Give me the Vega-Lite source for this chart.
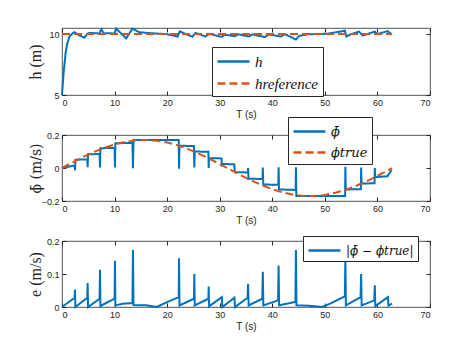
{
  "$schema": "https://vega.github.io/schema/vega-lite/v6.json",
  "background": "white",
  "padding": {"left": 26, "top": 24, "right": 5, "bottom": 5},
  "spacing": 40,
  "bounds": "flush",
  "resolve": {"scale": {"color": "independent", "strokeDash": "independent"}, "legend": {"color": "independent", "strokeDash": "independent"}},
  "config": {
    "view": {"stroke": "#262626", "strokeWidth": 0.8},
    "axis": {
      "grid": false, "domain": false,
      "labelFont": "Liberation Sans", "labelFontSize": 9, "labelColor": "#262626",
      "tickColor": "#262626", "tickSize": -4, "labelPadding": 7, "format": "~r",
      "titleFont": "Liberation Sans", "titleFontSize": 10, "titleFontWeight": "normal", "titleColor": "#262626"
    },
    "axisY": {"titleFont": "Liberation Serif", "titleFontSize": 16, "titlePadding": 3, "minExtent": 16, "maxExtent": 16},
    "axisX": {"titlePadding": 2},
    "legend": {
      "orient": "none", "strokeColor": "#262626", "fillColor": "white", "padding": 4,
      "labelFont": "DejaVu Serif", "labelFontSize": 13, "labelFontStyle": "italic", "labelColor": "#111",
      "symbolType": "M-1,0H2.55", "symbolSize": 324, "symbolStrokeWidth": 2.5, "rowPadding": 3, "labelOffset": 18
    }
  },
  "vconcat": [
    {
      "width": 368, "height": 67,
      "data": {"values": [
        {"t":0,"v":5,"s":"h"},{"t":0.3,"v":6.8,"s":"h"},{"t":0.7,"v":8.5,"s":"h"},{"t":1.0,"v":9.2,"s":"h"},{"t":1.4,"v":9.8,"s":"h"},{"t":2.0,"v":10.05,"s":"h"},{"t":2.35,"v":10.15,"s":"h"},{"t":3.3,"v":9.9,"s":"h"},{"t":4.25,"v":9.7,"s":"h"},{"t":4.9,"v":10.05,"s":"h"},{"t":5.2,"v":10.1,"s":"h"},{"t":7.1,"v":10.05,"s":"h"},{"t":7.5,"v":10.4,"s":"h"},{"t":7.9,"v":10.08,"s":"h"},{"t":10.0,"v":10.05,"s":"h"},{"t":10.3,"v":10.45,"s":"h"},{"t":12.2,"v":9.65,"s":"h"},{"t":13.4,"v":10.45,"s":"h"},{"t":14.7,"v":10.15,"s":"h"},{"t":16.6,"v":10.08,"s":"h"},{"t":19.8,"v":10.0,"s":"h"},{"t":22.0,"v":9.8,"s":"h"},{"t":22.4,"v":10.22,"s":"h"},{"t":24.8,"v":9.78,"s":"h"},{"t":25.4,"v":10.1,"s":"h"},{"t":27.3,"v":9.8,"s":"h"},{"t":27.9,"v":10.02,"s":"h"},{"t":30.3,"v":9.78,"s":"h"},{"t":31.0,"v":9.95,"s":"h"},{"t":32.9,"v":9.82,"s":"h"},{"t":33.5,"v":9.98,"s":"h"},{"t":35.6,"v":9.8,"s":"h"},{"t":36.2,"v":9.98,"s":"h"},{"t":38.6,"v":9.75,"s":"h"},{"t":39.3,"v":9.98,"s":"h"},{"t":41.6,"v":9.8,"s":"h"},{"t":42.4,"v":10.0,"s":"h"},{"t":44.5,"v":9.55,"s":"h"},{"t":45.1,"v":9.85,"s":"h"},{"t":46.7,"v":9.98,"s":"h"},{"t":50.5,"v":10.03,"s":"h"},{"t":53.1,"v":10.22,"s":"h"},{"t":53.8,"v":10.28,"s":"h"},{"t":54.1,"v":9.8,"s":"h"},{"t":54.9,"v":9.98,"s":"h"},{"t":56.5,"v":10.2,"s":"h"},{"t":57.2,"v":9.88,"s":"h"},{"t":59.1,"v":10.15,"s":"h"},{"t":59.5,"v":10.2,"s":"h"},{"t":60.0,"v":10.0,"s":"h"},{"t":61.6,"v":10.2,"s":"h"},{"t":61.9,"v":10.25,"s":"h"},{"t":62.7,"v":10.0,"s":"h"},
        {"t":0,"v":10,"s":"r"},{"t":62.8,"v":10,"s":"r"}
      ]},
      "layer": [
        {
          "mark": {"type": "line", "strokeWidth": 2},
          "encoding": {
            "x": {"field": "t", "type": "quantitative", "scale": {"domain": [0, 70], "nice": false}, "axis": {"values": [0,10,20,30,40,50,60,70], "title": "T (s)"}},
            "y": {"field": "v", "type": "quantitative", "scale": {"domain": [5, 10.5], "nice": false, "zero": false}, "axis": {"values": [5, 10], "title": "h (m)"}},
            "color": {"field": "s", "type": "nominal", "scale": {"domain": ["h", "r"], "range": ["#0072BD", "#D95319"]}, "legend": {"title": null, "legendX": 150, "legendY": 19, "labelFont": "Liberation Serif", "labelFontSize": 15, "labelExpr": "datum.value == 'h' ? 'h' : 'hreference'"}},
            "strokeDash": {"field": "s", "type": "nominal", "scale": {"domain": ["h", "r"], "range": [[1, 0], [8, 4]]}, "legend": {"title": null, "legendX": 150, "legendY": 19, "labelFont": "Liberation Serif", "labelFontSize": 15, "labelExpr": "datum.value == 'h' ? 'h' : 'hreference'"}}
          }
        },
        {
          "mark": {"type": "line", "opacity": 0},
          "encoding": {
            "x": {"field": "t", "type": "quantitative", "axis": {"orient": "top", "values": [0,10,20,30,40,50,60,70], "labels": false, "title": null}},
            "y": {"field": "v", "type": "quantitative", "axis": {"orient": "right", "values": [5, 10], "labels": false, "title": null, "minExtent": 0}},
            "detail": {"field": "s"}
          }
        }
      ],
      "resolve": {"axis": {"x": "independent", "y": "independent"}}
    },
    {
      "width": 368, "height": 66,
      "data": {"values": [
        {"t":0,"v":0,"s":"bar"},{"t":2.4,"v":0.015,"s":"bar"},{"t":2.47,"v":-0.014,"s":"bar"},{"t":2.55,"v":0.05,"s":"bar"},{"t":4.8,"v":0.052,"s":"bar"},{"t":4.88,"v":0.005,"s":"bar"},{"t":4.95,"v":0.083,"s":"bar"},{"t":7.15,"v":0.085,"s":"bar"},{"t":7.23,"v":0.003,"s":"bar"},{"t":7.3,"v":0.12,"s":"bar"},{"t":10.0,"v":0.122,"s":"bar"},{"t":10.08,"v":0.003,"s":"bar"},{"t":10.15,"v":0.15,"s":"bar"},{"t":13.4,"v":0.152,"s":"bar"},{"t":13.5,"v":-0.002,"s":"bar"},{"t":13.6,"v":0.17,"s":"bar"},{"t":22.2,"v":0.17,"s":"bar"},{"t":22.26,"v":-0.005,"s":"bar"},{"t":22.35,"v":0.135,"s":"bar"},{"t":25.1,"v":0.133,"s":"bar"},{"t":25.17,"v":0.003,"s":"bar"},{"t":25.25,"v":0.10,"s":"bar"},{"t":27.85,"v":0.098,"s":"bar"},{"t":27.9,"v":0.0,"s":"bar"},{"t":27.98,"v":0.06,"s":"bar"},{"t":30.35,"v":0.058,"s":"bar"},{"t":30.4,"v":0.01,"s":"bar"},{"t":30.48,"v":0.025,"s":"bar"},{"t":32.75,"v":0.022,"s":"bar"},{"t":32.8,"v":0.005,"s":"bar"},{"t":32.88,"v":-0.025,"s":"bar"},{"t":35.35,"v":-0.027,"s":"bar"},{"t":35.4,"v":0.0,"s":"bar"},{"t":35.48,"v":-0.065,"s":"bar"},{"t":38.15,"v":-0.067,"s":"bar"},{"t":38.2,"v":0.003,"s":"bar"},{"t":38.28,"v":-0.10,"s":"bar"},{"t":41.15,"v":-0.102,"s":"bar"},{"t":41.2,"v":0.005,"s":"bar"},{"t":41.28,"v":-0.13,"s":"bar"},{"t":44.45,"v":-0.133,"s":"bar"},{"t":44.5,"v":0.005,"s":"bar"},{"t":44.58,"v":-0.17,"s":"bar"},{"t":53.85,"v":-0.17,"s":"bar"},{"t":53.9,"v":0.008,"s":"bar"},{"t":53.98,"v":-0.13,"s":"bar"},{"t":56.85,"v":-0.128,"s":"bar"},{"t":56.9,"v":0.003,"s":"bar"},{"t":56.98,"v":-0.095,"s":"bar"},{"t":59.45,"v":-0.092,"s":"bar"},{"t":59.5,"v":0.0,"s":"bar"},{"t":59.58,"v":-0.055,"s":"bar"},{"t":61.95,"v":-0.05,"s":"bar"},{"t":62.0,"v":-0.045,"s":"bar"},{"t":62.7,"v":-0.012,"s":"bar"},
        {"t":0,"v":0,"s":"true"},{"t":2,"v":0.0338,"s":"true"},{"t":4,"v":0.0662,"s":"true"},{"t":6,"v":0.096,"s":"true"},{"t":8,"v":0.122,"s":"true"},{"t":10,"v":0.1431,"s":"true"},{"t":12,"v":0.1584,"s":"true"},{"t":14,"v":0.1675,"s":"true"},{"t":16,"v":0.1699,"s":"true"},{"t":18,"v":0.1656,"s":"true"},{"t":20,"v":0.1546,"s":"true"},{"t":22,"v":0.1374,"s":"true"},{"t":24,"v":0.1148,"s":"true"},{"t":26,"v":0.0876,"s":"true"},{"t":28,"v":0.057,"s":"true"},{"t":30,"v":0.024,"s":"true"},{"t":32,"v":-0.0099,"s":"true"},{"t":34,"v":-0.0434,"s":"true"},{"t":36,"v":-0.0752,"s":"true"},{"t":38,"v":-0.104,"s":"true"},{"t":40,"v":-0.1287,"s":"true"},{"t":42,"v":-0.1482,"s":"true"},{"t":44,"v":-0.1618,"s":"true"},{"t":46,"v":-0.1689,"s":"true"},{"t":48,"v":-0.1694,"s":"true"},{"t":50,"v":-0.163,"s":"true"},{"t":52,"v":-0.1502,"s":"true"},{"t":54,"v":-0.1314,"s":"true"},{"t":56,"v":-0.1073,"s":"true"},{"t":58,"v":-0.079,"s":"true"},{"t":60,"v":-0.0475,"s":"true"},{"t":62,"v":-0.0141,"s":"true"},{"t":62.8,"v":-0.0005,"s":"true"}
      ]},
      "layer": [
        {
          "mark": {"type": "line", "strokeWidth": 2},
          "encoding": {
            "x": {"field": "t", "type": "quantitative", "scale": {"domain": [0, 70], "nice": false}, "axis": {"values": [0,10,20,30,40,50,60,70], "title": "T (s)"}},
            "y": {"field": "v", "type": "quantitative", "scale": {"domain": [-0.2, 0.2], "nice": false}, "axis": {"values": [-0.2, 0, 0.2], "title": "ϕ̄ (m/s)", "titleFont": "DejaVu Serif", "titleFontSize": 14}},
            "color": {"field": "s", "type": "nominal", "scale": {"domain": ["bar", "true"], "range": ["#0072BD", "#D95319"]}, "legend": {"title": null, "legendX": 226, "legendY": -18, "labelExpr": "datum.value == 'bar' ? 'ϕ̄' : 'ϕtrue'"}},
            "strokeDash": {"field": "s", "type": "nominal", "scale": {"domain": ["bar", "true"], "range": [[1, 0], [8, 4]]}, "legend": {"title": null, "legendX": 226, "legendY": -18, "labelExpr": "datum.value == 'bar' ? 'ϕ̄' : 'ϕtrue'"}}
          }
        },
        {
          "mark": {"type": "line", "opacity": 0},
          "encoding": {
            "x": {"field": "t", "type": "quantitative", "axis": {"orient": "top", "values": [0,10,20,30,40,50,60,70], "labels": false, "title": null}},
            "y": {"field": "v", "type": "quantitative", "axis": {"orient": "right", "values": [-0.2, 0, 0.2], "labels": false, "title": null, "minExtent": 0}},
            "detail": {"field": "s"}
          }
        }
      ],
      "resolve": {"axis": {"x": "independent", "y": "independent"}}
    },
    {
      "width": 368, "height": 66,
      "data": {"values": [
        {"t":0,"v":0,"s":"e"},{"t":2.4,"v":0.028,"s":"e"},{"t":2.47,"v":0.053,"s":"e"},{"t":2.55,"v":0.0,"s":"e"},{"t":4.8,"v":0.028,"s":"e"},{"t":4.88,"v":0.073,"s":"e"},{"t":4.95,"v":0.0,"s":"e"},{"t":7.15,"v":0.025,"s":"e"},{"t":7.23,"v":0.113,"s":"e"},{"t":7.3,"v":0.003,"s":"e"},{"t":10.0,"v":0.025,"s":"e"},{"t":10.08,"v":0.14,"s":"e"},{"t":10.15,"v":0.005,"s":"e"},{"t":11.5,"v":0.01,"s":"e"},{"t":13.4,"v":0.012,"s":"e"},{"t":13.5,"v":0.173,"s":"e"},{"t":13.6,"v":0.006,"s":"e"},{"t":16,"v":0.005,"s":"e"},{"t":18,"v":0.0,"s":"e"},{"t":20,"v":0.015,"s":"e"},{"t":22.2,"v":0.03,"s":"e"},{"t":22.26,"v":0.148,"s":"e"},{"t":22.35,"v":0.005,"s":"e"},{"t":25.1,"v":0.025,"s":"e"},{"t":25.17,"v":0.1,"s":"e"},{"t":25.25,"v":0.005,"s":"e"},{"t":27.85,"v":0.025,"s":"e"},{"t":27.9,"v":0.062,"s":"e"},{"t":27.98,"v":0.002,"s":"e"},{"t":30.4,"v":0.03,"s":"e"},{"t":30.5,"v":0.0,"s":"e"},{"t":32.8,"v":0.028,"s":"e"},{"t":32.9,"v":0.0,"s":"e"},{"t":35.3,"v":0.028,"s":"e"},{"t":35.4,"v":0.07,"s":"e"},{"t":35.5,"v":0.005,"s":"e"},{"t":38.1,"v":0.025,"s":"e"},{"t":38.2,"v":0.107,"s":"e"},{"t":38.3,"v":0.005,"s":"e"},{"t":41.1,"v":0.02,"s":"e"},{"t":41.2,"v":0.126,"s":"e"},{"t":41.3,"v":0.005,"s":"e"},{"t":44.4,"v":0.015,"s":"e"},{"t":44.5,"v":0.173,"s":"e"},{"t":44.6,"v":0.005,"s":"e"},{"t":47,"v":0.004,"s":"e"},{"t":49.5,"v":0.0,"s":"e"},{"t":51,"v":0.01,"s":"e"},{"t":53.8,"v":0.032,"s":"e"},{"t":53.9,"v":0.15,"s":"e"},{"t":54.0,"v":0.005,"s":"e"},{"t":56.8,"v":0.03,"s":"e"},{"t":56.9,"v":0.1,"s":"e"},{"t":57.0,"v":0.005,"s":"e"},{"t":59.4,"v":0.02,"s":"e"},{"t":59.5,"v":0.066,"s":"e"},{"t":59.6,"v":0.003,"s":"e"},{"t":62.0,"v":0.03,"s":"e"},{"t":62.1,"v":0.004,"s":"e"},{"t":62.8,"v":0.01,"s":"e"}
      ]},
      "layer": [
        {
          "mark": {"type": "line", "strokeWidth": 2},
          "encoding": {
            "x": {"field": "t", "type": "quantitative", "scale": {"domain": [0, 70], "nice": false}, "axis": {"values": [0,10,20,30,40,50,60,70], "title": "T (s)"}},
            "y": {"field": "v", "type": "quantitative", "scale": {"domain": [0, 0.2], "nice": false}, "axis": {"values": [0, 0.1, 0.2], "title": "e (m/s)"}},
            "color": {"field": "s", "type": "nominal", "scale": {"domain": ["e"], "range": ["#0072BD"]}, "legend": {"title": null, "legendX": 241, "legendY": -5, "labelFontSize": 12, "labelExpr": "'|ϕ̄ − ϕtrue|'"}}
          }
        },
        {
          "mark": {"type": "line", "opacity": 0},
          "encoding": {
            "x": {"field": "t", "type": "quantitative", "axis": {"orient": "top", "values": [0,10,20,30,40,50,60,70], "labels": false, "title": null}},
            "y": {"field": "v", "type": "quantitative", "axis": {"orient": "right", "values": [0, 0.1, 0.2], "labels": false, "title": null, "minExtent": 0}}
          }
        }
      ],
      "resolve": {"axis": {"x": "independent", "y": "independent"}}
    }
  ]
}
